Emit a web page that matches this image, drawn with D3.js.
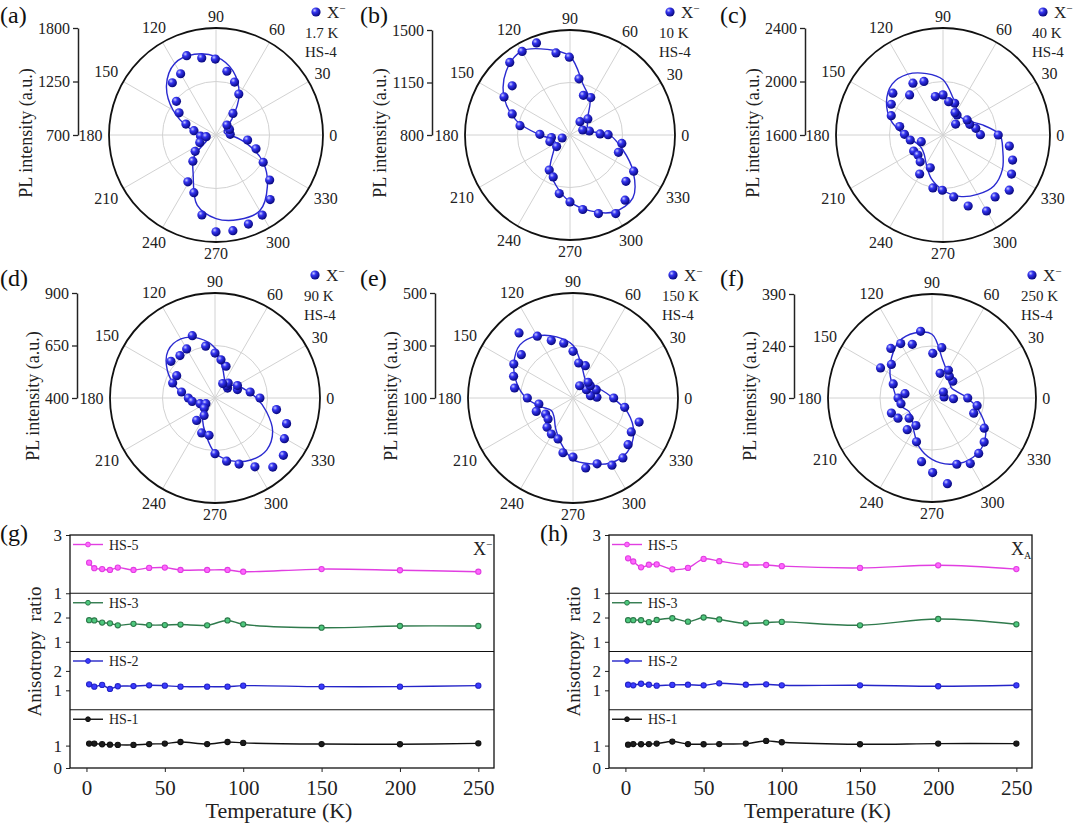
<!DOCTYPE html>
<html>
<head>
<meta charset="utf-8">
<script src="https://cdn.jsdelivr.net/npm/d3@7"></script>
<style>
  body { margin: 0; background: #fff; }
  svg { display: block; font-family: "Liberation Serif", "Times New Roman", serif; }
</style>
</head>
<body>
<div id="chart"></div>
<script>
// ---- polar panels: measured angle (deg) and PL intensity, fit read every 15 deg ----
const fitAngles = [0, 15, 30, 45, 60, 75, 90, 105, 120, 135, 150, 165, 180, 195, 210, 225, 240, 255, 270, 285, 300, 315, 330, 345];
const gridAngles = [0, 30, 60, 90, 120, 150, 180, 210, 240, 270, 300, 330];

const aTheta = [2.7, 22.5, 42.3, 51.9, 60.9, 70.7, 80.3, 90.5, 100.5, 110.3, 120, 129.9, 139.6, 149, 160, 169, 184, 190, 205, 218, 228.5, 239, 249, 260, 270, 280, 290, 300, 310, 320, 330, 341, 351];
const aPL = [846, 850, 852, 982, 1182, 1277, 1365, 1481, 1505, 1569, 1427, 1400, 1234, 1143, 1029, 931, 860, 802, 884, 972, 1059, 1262, 1335, 1535, 1695, 1699, 1674, 1651, 1566, 1420, 1260, 1135, 1029];
const aFit = [846, 790, 800, 931, 1175, 1379, 1505, 1559, 1549, 1420, 1209, 989, 822, 790, 810, 1022, 1169, 1447, 1559, 1600, 1600, 1447, 1260, 1022];

const bTheta = [0.5, 2, 11.7, 21.5, 42, 53, 61, 71.3, 80.9, 90.5, 99.7, 110, 119.8, 129.7, 139.6, 150, 160, 169.4, 178.7, 188, 198, 201, 221, 239.4, 248.2, 259.6, 270, 279.7, 289.9, 300.2, 310.2, 320.4, 330.4, 340.3, 350.8];
const bPL = [1054, 1001, 932, 891, 960, 911, 1085, 1079, 1179, 1319, 1355, 1453, 1442, 1429, 1306, 1308, 1210, 1139, 1001, 925, 941, 856, 918, 1072, 1101, 1197, 1246, 1304, 1357, 1406, 1369, 1284, 1288, 1143, 1150];
const bFit = [1063, 923, 934, 967, 1067, 1145, 1324, 1391, 1446, 1402, 1308, 1170, 1001, 916, 911, 956, 1067, 1152, 1246, 1324, 1391, 1393, 1286, 1161];

const cTheta = [0, 0.5, 11.5, 21.8, 32, 41, 55, 61.7, 69.8, 80.4, 90, 101.3, 109.6, 120.1, 129.8, 140.2, 149.3, 159.5, 169, 179, 188.7, 197, 208.6, 218.7, 229.6, 239.1, 248.8, 259.2, 269.3, 279.8, 289.5, 299.8, 310.1, 320.2, 330.3, 340.2, 350.5];
const cPL = [2013, 1880, 1850, 1815, 1813, 1725, 1783, 1790, 1853, 1853, 1900, 1893, 2025, 2048, 1990, 2088, 2050, 2013, 1930, 1888, 1848, 1770, 1850, 1840, 1863, 1940, 1863, 2003, 2013, 2070, 2163, 2255, 2205, 2245, 2190, 2153, 2103];
const cFit = [2025, 1900, 1813, 1788, 1813, 1888, 2013, 2075, 2125, 2138, 2088, 2000, 1888, 1813, 1788, 1800, 1850, 1938, 2013, 2075, 2113, 2138, 2113, 2063];

const dTheta = [0, 9.7, 20.5, 28.9, 38.3, 46.6, 48.4, 61.9, 70.8, 81.1, 90, 100.2, 110, 120, 129.6, 140.2, 149.8, 160.5, 169.8, 180, 188.4, 200.7, 212, 223, 230.6, 238, 249.1, 260.9, 270, 280.4, 290, 300.1, 309.9, 320, 329.6, 340.3, 349.3];
const dPL = [614, 570, 514, 522, 476, 481, 495, 478, 560, 584, 614, 651, 716, 670, 662, 673, 611, 614, 562, 527, 510, 476, 451, 470, 538, 498, 578, 580, 665, 706, 735, 779, 829, 825, 783, 762, 698];
const dFit = [598, 551, 519, 487, 495, 543, 638, 694, 725, 717, 662, 590, 527, 479, 463, 479, 519, 575, 662, 710, 741, 749, 717, 654];

const eTheta = [0, 2, 7.7, 19.7, 32, 35.4, 46.2, 61.6, 69.1, 80.8, 90, 99.6, 110.7, 120, 129.7, 140, 150.2, 159.9, 170.3, 180, 190, 200, 210.3, 220, 228.4, 239, 249.9, 259.6, 270, 280.3, 290.1, 300.1, 309.8, 319.7, 329.8, 340, 349.8];
const ePL = [255, 191, 167, 194, 160, 181, 183, 153, 232, 235, 278, 312, 334, 372, 422, 357, 360, 341, 326, 274, 232, 249, 221, 224, 249, 260, 266, 312, 325, 371, 367, 396, 397, 375, 357, 368, 300];
const eFit = [252, 214, 189, 176, 189, 227, 301, 341, 373, 386, 360, 322, 278, 227, 195, 202, 233, 278, 335, 360, 386, 392, 367, 316];

const fTheta = [0, 4.8, 27.9, 38.9, 51.3, 59.4, 71.8, 79, 89, 99.7, 110.2, 119.9, 129.7, 140.4, 149.7, 160.1, 170.9, 180, 190.4, 200.4, 210.7, 221.4, 232, 239.7, 250.5, 260.7, 270.5, 280.2, 290.5, 300.3, 310.1, 319.8, 330, 340, 350.3, 358];
const fPL = [193, 125, 127, 167, 170, 183, 165, 238, 219, 285, 255, 271, 276, 242, 262, 209, 169, 188, 181, 215, 204, 178, 206, 182, 224, 276, 305, 341, 294, 309, 299, 287, 264, 218, 222, 152];
const fFit = [193, 163, 153, 163, 177, 206, 274, 284, 279, 255, 230, 206, 192, 182, 167, 172, 196, 235, 267, 288, 298, 293, 269, 230];

// ---- anisotropy ratio vs temperature ----
const temps = [1.7, 5, 10, 15, 20, 30, 40, 50, 60, 77, 90, 100, 150, 200, 250];
const tempTicks = [0, 50, 100, 150, 200, 250];
const gHS5 = [2.05, 1.86, 1.83, 1.80, 1.88, 1.80, 1.87, 1.88, 1.80, 1.80, 1.80, 1.74, 1.83, 1.79, 1.74];
const gHS3 = [1.89, 1.88, 1.79, 1.76, 1.68, 1.74, 1.69, 1.69, 1.71, 1.68, 1.88, 1.72, 1.58, 1.65, 1.65];
const gHS2 = [1.31, 1.19, 1.28, 1.07, 1.21, 1.22, 1.26, 1.24, 1.19, 1.19, 1.19, 1.24, 1.19, 1.19, 1.24];
const gHS1 = [1.09, 1.09, 1.06, 1.04, 1.03, 1.03, 1.07, 1.09, 1.16, 1.07, 1.16, 1.12, 1.07, 1.06, 1.10];
const hHS5 = [2.20, 2.09, 1.89, 1.98, 1.99, 1.82, 1.87, 2.18, 2.10, 1.98, 1.97, 1.93, 1.87, 1.96, 1.83];
const hHS3 = [1.89, 1.89, 1.89, 1.81, 1.90, 1.97, 1.83, 2.00, 1.92, 1.76, 1.79, 1.82, 1.68, 1.94, 1.72];
const hHS2 = [1.29, 1.26, 1.34, 1.29, 1.24, 1.28, 1.29, 1.26, 1.36, 1.29, 1.31, 1.26, 1.26, 1.21, 1.26];
const hHS1 = [1.04, 1.07, 1.06, 1.07, 1.09, 1.18, 1.07, 1.06, 1.07, 1.09, 1.21, 1.15, 1.06, 1.09, 1.09];
const stripNames = ["HS-5", "HS-3", "HS-2", "HS-1"];
const stripDomains = [[1, 3], [0.6, 3], [0, 3], [0, 2.6]];
const stripTicks = [[1, 3], [1, 2], [1, 2], [0, 1]];
const stripColors = ["#e13ee1", "#2f7a4c", "#2424c8", "#111111"];

const svg = d3.select("#chart").append("svg")
  .attr("width", 1080)
  .attr("height", 823);

// shaded ball for polar markers
let grad = svg.append("defs").append("radialGradient")
  .attr("id", "ball").attr("cx", "35%").attr("cy", "32%").attr("r", "70%");
grad.append("stop").attr("offset", "0%").attr("stop-color", "#c9ccff");
grad.append("stop").attr("offset", "35%").attr("stop-color", "#3434f0");
grad.append("stop").attr("offset", "100%").attr("stop-color", "#06067a");

let rad = (deg) => deg * Math.PI / 180;

let drawPolar = (p) => {
  let g = svg.append("g");
  let r = d3.scaleLinear().domain([p.min, p.max]).range([0, p.R]);

  // grid
  g.append("circle")
    .attr("cx", p.cx).attr("cy", p.cy).attr("r", p.R / 2)
    .attr("fill", "none").attr("stroke", "#d2d2d2").attr("stroke-width", 1);
  g.selectAll(".spoke").data(gridAngles).enter().append("line")
    .attr("x1", p.cx).attr("y1", p.cy)
    .attr("x2", (a) => p.cx + p.R * Math.cos(rad(a)))
    .attr("y2", (a) => p.cy - p.R * Math.sin(rad(a)))
    .attr("stroke", "#d2d2d2").attr("stroke-width", 1);
  g.append("circle")
    .attr("cx", p.cx).attr("cy", p.cy).attr("r", p.R)
    .attr("fill", "none").attr("stroke", "#111").attr("stroke-width", 1.8);

  // angle labels
  let labOff = (a) => p.R + 6 + String(a).length * 4.2 * Math.abs(Math.cos(rad(a))) + 5.5 * Math.abs(Math.sin(rad(a)));
  g.selectAll(".alab").data(gridAngles).enter().append("text")
    .attr("x", (a) => p.cx + labOff(a) * Math.cos(rad(a)))
    .attr("y", (a) => p.cy - labOff(a) * Math.sin(rad(a)))
    .attr("text-anchor", "middle").attr("dominant-baseline", "central")
    .style("font-size", "16px").attr("fill", "#222")
    .text((a) => a);

  // radial axis
  let axisX = p.cx - 138;
  let yR = d3.scaleLinear().domain([p.min, p.max]).range([p.cy, p.cy - p.R]);
  let ax = g.append("g").attr("transform", `translate(${axisX},0)`)
    .call(d3.axisLeft(yR).tickValues(p.ticks).tickFormat(d3.format("d"))
      .tickSize(5).tickSizeOuter(0).tickPadding(3));
  ax.attr("font-family", null).attr("font-size", null);
  ax.selectAll("text").style("font-size", "16px").attr("fill", "#222");
  ax.selectAll("line").attr("stroke", "#222").attr("stroke-width", 1.3);
  ax.select(".domain").attr("stroke", "#222").attr("stroke-width", 1.5);
  let digits = String(p.max).length;
  g.append("text")
    .attr("transform", `translate(${axisX - 20 - 8 * digits},${p.cy - 2}) rotate(-90)`)
    .attr("text-anchor", "middle").attr("dominant-baseline", "central")
    .style("font-size", "18px").attr("fill", "#222")
    .text("PL intensity (a.u.)");

  // fit curve
  let fitLine = d3.lineRadial()
    .angle((d) => rad(90 - d[0]))
    .radius((d) => r(d[1]))
    .curve(d3.curveCatmullRomClosed.alpha(0.5));
  g.append("path")
    .datum(d3.zip(fitAngles, p.fit))
    .attr("transform", `translate(${p.cx},${p.cy})`)
    .attr("d", fitLine)
    .attr("fill", "none").attr("stroke", "#2a2ad0").attr("stroke-width", 1.4);

  // data points
  g.selectAll(".pt").data(d3.zip(p.theta, p.pl)).enter().append("circle")
    .attr("cx", (d) => p.cx + r(d[1]) * Math.cos(rad(d[0])))
    .attr("cy", (d) => p.cy - r(d[1]) * Math.sin(rad(d[0])))
    .attr("r", 4.6)
    .attr("fill", "url(#ball)");

  // legend
  g.append("circle").attr("cx", p.cx + 100).attr("cy", p.cy - 123).attr("r", 4.6).attr("fill", "url(#ball)");
  let lx = g.append("text").attr("x", p.cx + 111).attr("y", p.cy - 117)
    .style("font-size", "17px").attr("fill", "#222").text("X");
  lx.append("tspan").attr("dy", -6).style("font-size", "11px").text("\u2212");
  g.append("text").attr("x", p.cx + 89).attr("y", p.cy - 97)
    .style("font-size", "15px").attr("fill", "#222").text(p.temp);
  g.append("text").attr("x", p.cx + 89).attr("y", p.cy - 78)
    .style("font-size", "15px").attr("fill", "#222").text("HS-4");

  svg.append("text").attr("x", p.lx).attr("y", p.cy - 112)
    .style("font-size", "24px").attr("fill", "#111").text(p.tag);
};

drawPolar({ tag: "(a)", lx: 0, cx: 216, cy: 135, R: 107, min: 700, max: 1800, ticks: [700, 1250, 1800], temp: "1.7 K", theta: aTheta, pl: aPL, fit: aFit });
drawPolar({ tag: "(b)", lx: 360, cx: 570, cy: 135, R: 105, min: 800, max: 1500, ticks: [800, 1150, 1500], temp: "10 K", theta: bTheta, pl: bPL, fit: bFit });
drawPolar({ tag: "(c)", lx: 720, cx: 943, cy: 135, R: 107, min: 1600, max: 2400, ticks: [1600, 2000, 2400], temp: "40 K", theta: cTheta, pl: cPL, fit: cFit });
drawPolar({ tag: "(d)", lx: 0, cx: 215, cy: 398, R: 105, min: 400, max: 900, ticks: [400, 650, 900], temp: "90 K", theta: dTheta, pl: dPL, fit: dFit });
drawPolar({ tag: "(e)", lx: 360, cx: 573, cy: 398, R: 105, min: 100, max: 500, ticks: [100, 300, 500], temp: "150 K", theta: eTheta, pl: ePL, fit: eFit });
drawPolar({ tag: "(f)", lx: 720, cx: 932, cy: 398, R: 104, min: 90, max: 390, ticks: [90, 240, 390], temp: "250 K", theta: fTheta, pl: fPL, fit: fFit });

// ---- stacked ratio panels ----
let drawRatio = (p) => {
  let g = svg.append("g");
  let top = 535, bottom = 768, bh = (bottom - top) / 4;
  let x = d3.scaleLinear().domain([-10.5, 260]).range([p.x0, p.x1]);

  p.series.forEach((vals, i) => {
    let y0 = top + i * bh;
    let y = d3.scaleLinear().domain(stripDomains[i]).range([y0 + bh, y0]);
    let col = stripColors[i];
    let light = d3.color(col).brighter(1.4);

    let ay = g.append("g").attr("transform", `translate(${p.x0},0)`)
      .call(d3.axisLeft(y).tickValues(stripTicks[i]).tickFormat(d3.format("d"))
        .tickSize(4).tickSizeOuter(0).tickPadding(4));
    ay.attr("font-family", null).attr("font-size", null);
    ay.select(".domain").remove();
    ay.selectAll("text").style("font-size", "17px").attr("fill", "#222");
    ay.selectAll("line").attr("stroke", "#222");

    let line = d3.line().x((d) => x(d[0])).y((d) => y(d[1])).curve(d3.curveCatmullRom);
    g.append("path").datum(d3.zip(temps, vals))
      .attr("d", line).attr("fill", "none")
      .attr("stroke", col).attr("stroke-width", 1.4);
    g.selectAll(".m" + i).data(d3.zip(temps, vals)).enter().append("circle")
      .attr("cx", (d) => x(d[0])).attr("cy", (d) => y(d[1])).attr("r", 2.6)
      .attr("fill", light).attr("stroke", col).attr("stroke-width", 1.1);

    // legend
    g.append("line").attr("x1", p.x0 + 3).attr("x2", p.x0 + 33)
      .attr("y1", y0 + 9.5).attr("y2", y0 + 9.5)
      .attr("stroke", col).attr("stroke-width", 1.4);
    g.append("circle").attr("cx", p.x0 + 18).attr("cy", y0 + 9.5).attr("r", 2.4)
      .attr("fill", light).attr("stroke", col).attr("stroke-width", 1);
    g.append("text").attr("x", p.x0 + 39).attr("y", y0 + 14.5)
      .style("font-size", "14px").attr("fill", "#222").text(stripNames[i]);

    if (i > 0) {
      g.append("line").attr("x1", p.x0).attr("x2", p.x1).attr("y1", y0).attr("y2", y0)
        .attr("stroke", "#111").attr("stroke-width", 1.2);
    }
  });

  g.append("rect").attr("x", p.x0).attr("y", top)
    .attr("width", p.x1 - p.x0).attr("height", bottom - top)
    .attr("fill", "none").attr("stroke", "#111").attr("stroke-width", 1.3);

  let ax = g.append("g").attr("transform", `translate(0,${bottom})`)
    .call(d3.axisBottom(x).tickValues(tempTicks).tickSize(4).tickSizeOuter(0).tickPadding(8));
  ax.attr("font-family", null).attr("font-size", null);
  ax.select(".domain").remove();
  ax.selectAll("text").style("font-size", "21px").attr("fill", "#222");
  ax.selectAll("line").attr("stroke", "#222");

  g.append("text").attr("x", (p.x0 + p.x1) / 2 - 3).attr("y", 818)
    .attr("text-anchor", "middle").style("font-size", "22px").attr("fill", "#222")
    .text("Temperature (K)");
  g.append("text")
    .attr("transform", `translate(${p.x0 - 36},${(top + bottom) / 2}) rotate(-90)`)
    .attr("text-anchor", "middle").attr("dominant-baseline", "central")
    .style("font-size", "19px").style("white-space", "pre").attr("fill", "#222")
    .text("Anisotropy  ratio");

  // species tag at top right
  let t = g.append("text").attr("x", p.x1 - 21).attr("y", 555)
    .style("font-size", "18px").attr("fill", "#222").text("X");
  if (p.sub) {
    t.append("tspan").attr("dy", 4).style("font-size", "10px").text(p.sub);
  } else {
    t.append("tspan").attr("dy", -7).style("font-size", "11px").text("\u2212");
  }

  svg.append("text").attr("x", p.lx).attr("y", 541)
    .style("font-size", "24px").attr("fill", "#111").text(p.tag);
};

drawRatio({ tag: "(g)", lx: 0, x0: 70, x1: 494, series: [gHS5, gHS3, gHS2, gHS1], sub: null });
drawRatio({ tag: "(h)", lx: 540, x0: 609, x1: 1032, series: [hHS5, hHS3, hHS2, hHS1], sub: "A" });
</script>
</body>
</html>
